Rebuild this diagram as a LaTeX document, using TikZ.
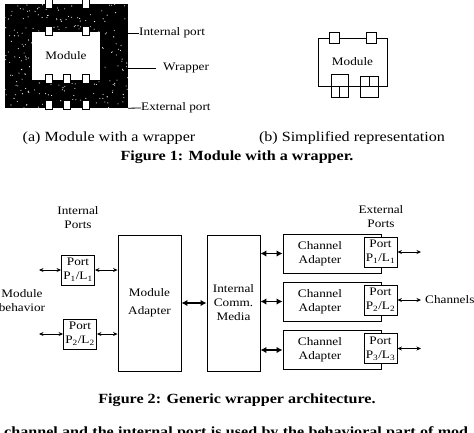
\documentclass[tikz,border=0pt]{standalone}
\usepackage{fontspec}
\setmainfont{Liberation Serif}[FakeStretch=1.15]
\usetikzlibrary{arrows.meta,positioning}
\newcommand\lblfont{\fontsize{11.5}{14}\selectfont}
\newcommand\capfont{\fontsize{14}{16}\selectfont}
\tikzset{
  lbl/.style={font=\lblfont, align=center, inner sep=0pt},
  pin/.style={draw, fill=white, line width=0.8pt, inner sep=0pt, minimum width=7pt, minimum height=9pt},
  portbox/.style={draw, fill=white, line width=0.9pt, inner sep=0pt, align=center, font=\lblfont,
    minimum width=33pt, minimum height=30pt},
  bigbox/.style={draw, line width=0.9pt, inner sep=0pt, align=center, font=\lblfont,
    minimum height=136pt},
  chbox/.style={draw, line width=0.9pt, minimum width=98pt, minimum height=39pt},
  thinarr/.style={line width=0.8pt, {Stealth[length=4.5pt,width=4pt]}-{Stealth[length=4.5pt,width=4pt]}},
  thickarr/.style={line width=1.6pt, {Latex[length=6pt,width=6.5pt]}-{Latex[length=6pt,width=6.5pt]}},
  captxt/.style={font=\capfont, inner sep=0pt, anchor=base}
}
\begin{document}
\begin{tikzpicture}[x=1pt,y=-1pt]
\useasboundingbox (0,0) rectangle (474,432);
\clip (0,0) rectangle (474,432);
\node[fill=black, inner sep=0pt, minimum width=123pt, minimum height=104pt] (wrap) at (66.5,56) {};
\pgfmathsetseed{7}
\foreach \k in {1,...,260}
  \fill[white] ({5+123*rnd},{4+104*rnd}) circle (0.55pt);
\node[fill=white, inner sep=0pt, minimum width=68pt, minimum height=48pt, font=\lblfont] (mod) at (66,56) {Module};
\foreach \x in {48.5,85.5}{
  \node[pin] at (\x,4) {};
  \node[pin] at (\x,31) {};
}
\foreach \x in {48.5,67,85.5}{
  \node[pin] at (\x,79) {};
  \node[pin] at (\x,105) {};
}
\node[lbl, anchor=west] (intp) at (139,33) {Internal port};
\node[lbl, anchor=west] (wrl) at (163,68) {Wrapper};
\node[lbl, anchor=west] (extp) at (141,108) {External port};
\draw[line width=0.8pt] (wrap.east |- intp.west) -- (intp.west);
\draw[line width=0.8pt] (wrap.east |- wrl.west) -- ([xshift=-7pt]wrl.west);
\draw[line width=0.8pt] (wrap.south east) -- (extp.west);

\node[draw, fill=white, line width=0.9pt, inner sep=0pt, minimum width=69pt, minimum height=48pt, font=\lblfont] (smod) at (352.5,62) {Module};
\node[pin, minimum width=10pt, minimum height=11pt] at (334,37.5) {};
\node[pin, minimum width=10pt, minimum height=11pt] at (371,37.5) {};
\node[pin, minimum width=17pt, minimum height=12pt] at (339.5,80) {};
\node[pin, minimum width=8.5pt, minimum height=11pt] at (335.25,91.5) {};
\node[pin, minimum width=8.5pt, minimum height=11pt] at (343.75,91.5) {};
\node[pin, minimum width=18pt, minimum height=11pt] at (369,91.5) {};
\node[pin, minimum width=9pt, minimum height=10pt] at (364.5,81) {};
\node[pin, minimum width=9pt, minimum height=10pt] at (373.5,81) {};

\node[captxt] (capa) at (109,141) {(a) Module with a wrapper};
\node[captxt] (capb) at (352,141) {(b) Simplified representation};
\node[captxt, font=\capfont\bfseries] (fig1) at (237,160) {Figure 1: Module with a wrapper.};

\node[lbl] (intports) at (78,218) {Internal\\Ports};
\node[lbl] (extports) at (381,217) {External\\Ports};
\node[lbl] (mbeh) at (22,301) {Module\\behavior};
\node[portbox] (ip1) at (78,270) {Port\\P\textsubscript{1}/L\textsubscript{1}};
\node[portbox] (ip2) at (80,334) {Port\\P\textsubscript{2}/L\textsubscript{2}};
\node[bigbox, minimum width=63pt] (ma) at (149.5,303) {Module\\[4pt]Adapter};
\node[bigbox, minimum width=53pt] (icm) at (233.5,303) {Internal\\Comm.\\Media};
\coordinate (mb1) at (39,270);
\coordinate (mb2) at (39,334);
\draw[thinarr] (mb1) -- (ip1.west);
\draw[thinarr] (mb2) -- (ip2.west);
\draw[thinarr] (ip1.east) -- (ma.west |- ip1.east);
\draw[thinarr] (ip2.east) -- (ma.west |- ip2.east);
\draw[thickarr] (ma.east) -- (icm.west);
\foreach \i/\y in {1/253.5,2/301.5,3/350}{
  \node[chbox] (ca\i) at (332,\y) {};
  \node[lbl] at (320,\y) {Channel\\Adapter};
  \node[portbox] (ep\i) at (380.5,\y-1.5) {Port\\P\textsubscript{\i}/L\textsubscript{\i}};
  \coordinate (ch\i) at (421,\y-1.5);
  \draw[thickarr] (icm.east |- ca\i.west) -- (ca\i.west);
  \draw[thinarr] (ep\i.east) -- (ch\i);
}
\node[lbl, anchor=west] (chan) at (425,300) {Channels};

\node[captxt, font=\capfont\bfseries] (fig2) at (237,403) {Figure 2: Generic wrapper architecture.};
\node[captxt, anchor=base west, font=\capfont\bfseries] (body) at (4,436)
  {\makebox[464pt][s]{channel and the internal port is used by the behavioral part of mod}};
\end{tikzpicture}
\end{document}
